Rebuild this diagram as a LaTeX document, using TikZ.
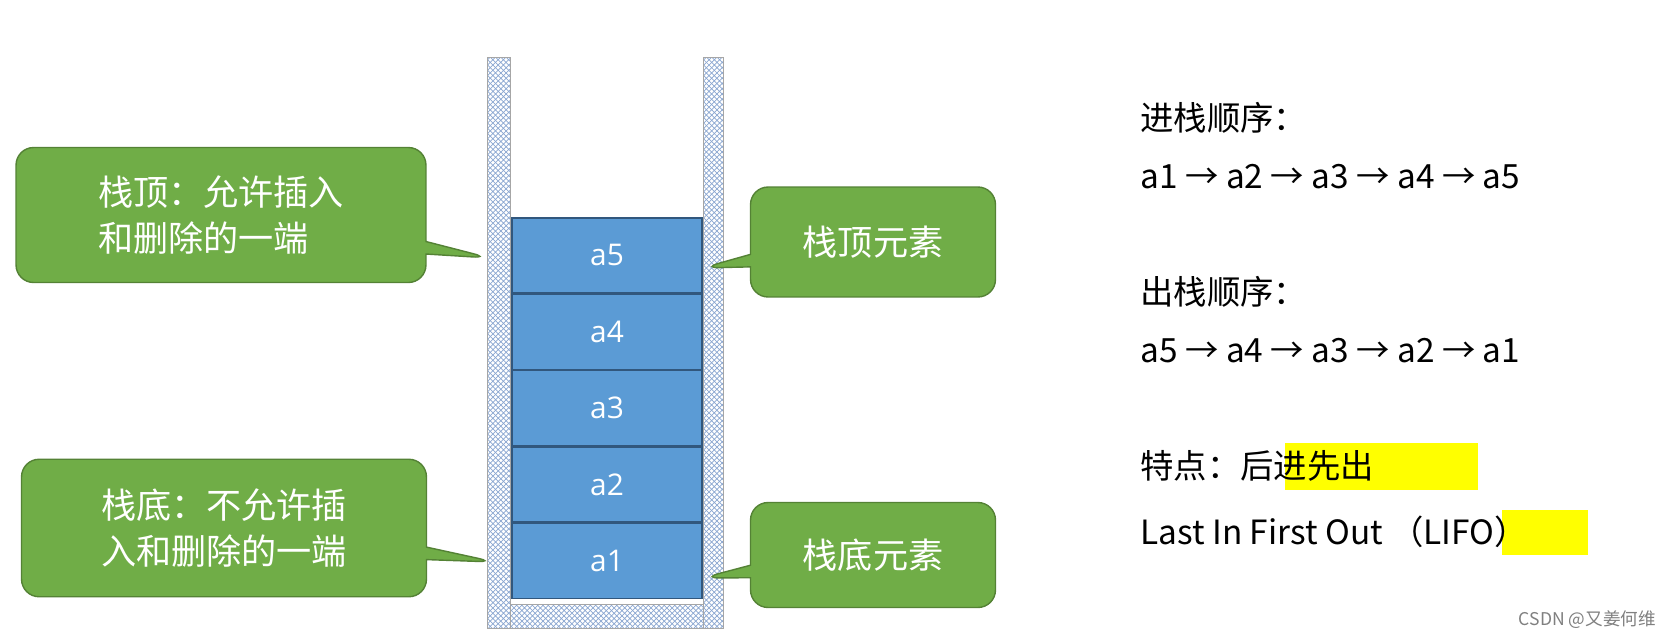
\documentclass[tikz,border=0pt]{standalone}
\usepackage{fontspec}
\setmainfont{Open Sans}
\newfontfamily\cjk{Noto Sans CJK SC}
\usetikzlibrary{positioning}
\usetikzlibrary{patterns}
\usetikzlibrary{shapes.callouts}
\definecolor{mgreen}{RGB}{112,173,71}
\definecolor{dgreen}{RGB}{84,130,53}
\definecolor{mblue}{RGB}{91,155,213}
\definecolor{dblue}{RGB}{49,87,125}
\definecolor{hatch}{RGB}{90,130,190}
\definecolor{hilite}{RGB}{255,255,0}
\tikzset{
  wall/.style = {draw=gray!70, pattern=crosshatch, pattern color=hatch!70},
  elem/.style = {draw=dblue, thick, fill=mblue, text=white, minimum width=3.8cm, minimum height=1.5cm, inner sep=0, font=\fontsize{17}{20}\selectfont},
  note/.style = {rectangle callout, draw=dgreen, thick, fill=mgreen, rounded corners=10pt, text=white, align=left, font=\cjk\fontsize{20}{26}\selectfont},
  info/.style = {anchor=west, font=\cjk\fontsize{19}{24}\selectfont, inner sep=0}
}
\begin{document}
\begin{tikzpicture}[x=0.02cm, y=-0.02cm]
    \useasboundingbox [fill=white] (0, 0) rectangle (1674, 637);
    % container
    \fill [white] (487, 57) rectangle (723, 628);
    \draw [wall] (487, 57) rectangle (510, 628);
    \draw [wall] (703, 57) rectangle (723, 628);
    \draw [wall] (510, 604) rectangle (703, 628);
    % elements
    \node [elem] (a1) at (607, 561) {a1};
    \node [elem, above=0pt of a1] (a2) {a2};
    \node [elem, above=0pt of a2] (a3) {a3};
    \node [elem, above=0pt of a3] (a4) {a4};
    \node [elem, above=0pt of a4] (a5) {a5};
    % callouts
    \node [note, minimum width=8.2cm, minimum height=2.7cm, callout absolute pointer={(490, 258)}] (top) at (221, 215) {栈顶：允许插入\\和删除的一端};
    \node [note, minimum width=8.1cm, minimum height=2.75cm, callout absolute pointer={(495, 562)}] (bottom) at (224, 528) {栈底：不允许插\\入和删除的一端};
    \node [note, minimum width=4.9cm, minimum height=2.2cm, callout absolute pointer={(702, 268)}] (topel) at (873, 242) {栈顶元素};
    \node [note, minimum width=4.9cm, minimum height=2.1cm, callout absolute pointer={(702, 578)}] (botel) at (873, 555) {栈底元素};
    % order text
    \node [info] (push) at (1140, 118) {进栈顺序：};
    \node [info] (pushseq) at (1140, 177) {a1 → a2 → a3 → a4 → a5};
    \node [info] (pop) at (1140, 292) {出栈顺序：};
    \node [info] (popseq) at (1140, 351) {a5 → a4 → a3 → a2 → a1};
    \fill [hilite] (1285, 443) rectangle (1478, 490);
    \fill [hilite] (1502, 510) rectangle (1588, 555);
    \node [info] (feat) at (1140, 466) {特点：后进先出};
    \node [info] (lifo) at (1140, 532) {Last In First Out （LIFO）};
    \node [anchor=east, text=gray, font=\cjk\fontsize{10}{12}\selectfont] (wm) at (1662, 620) {CSDN @又姜何维};
\end{tikzpicture}
\end{document}
